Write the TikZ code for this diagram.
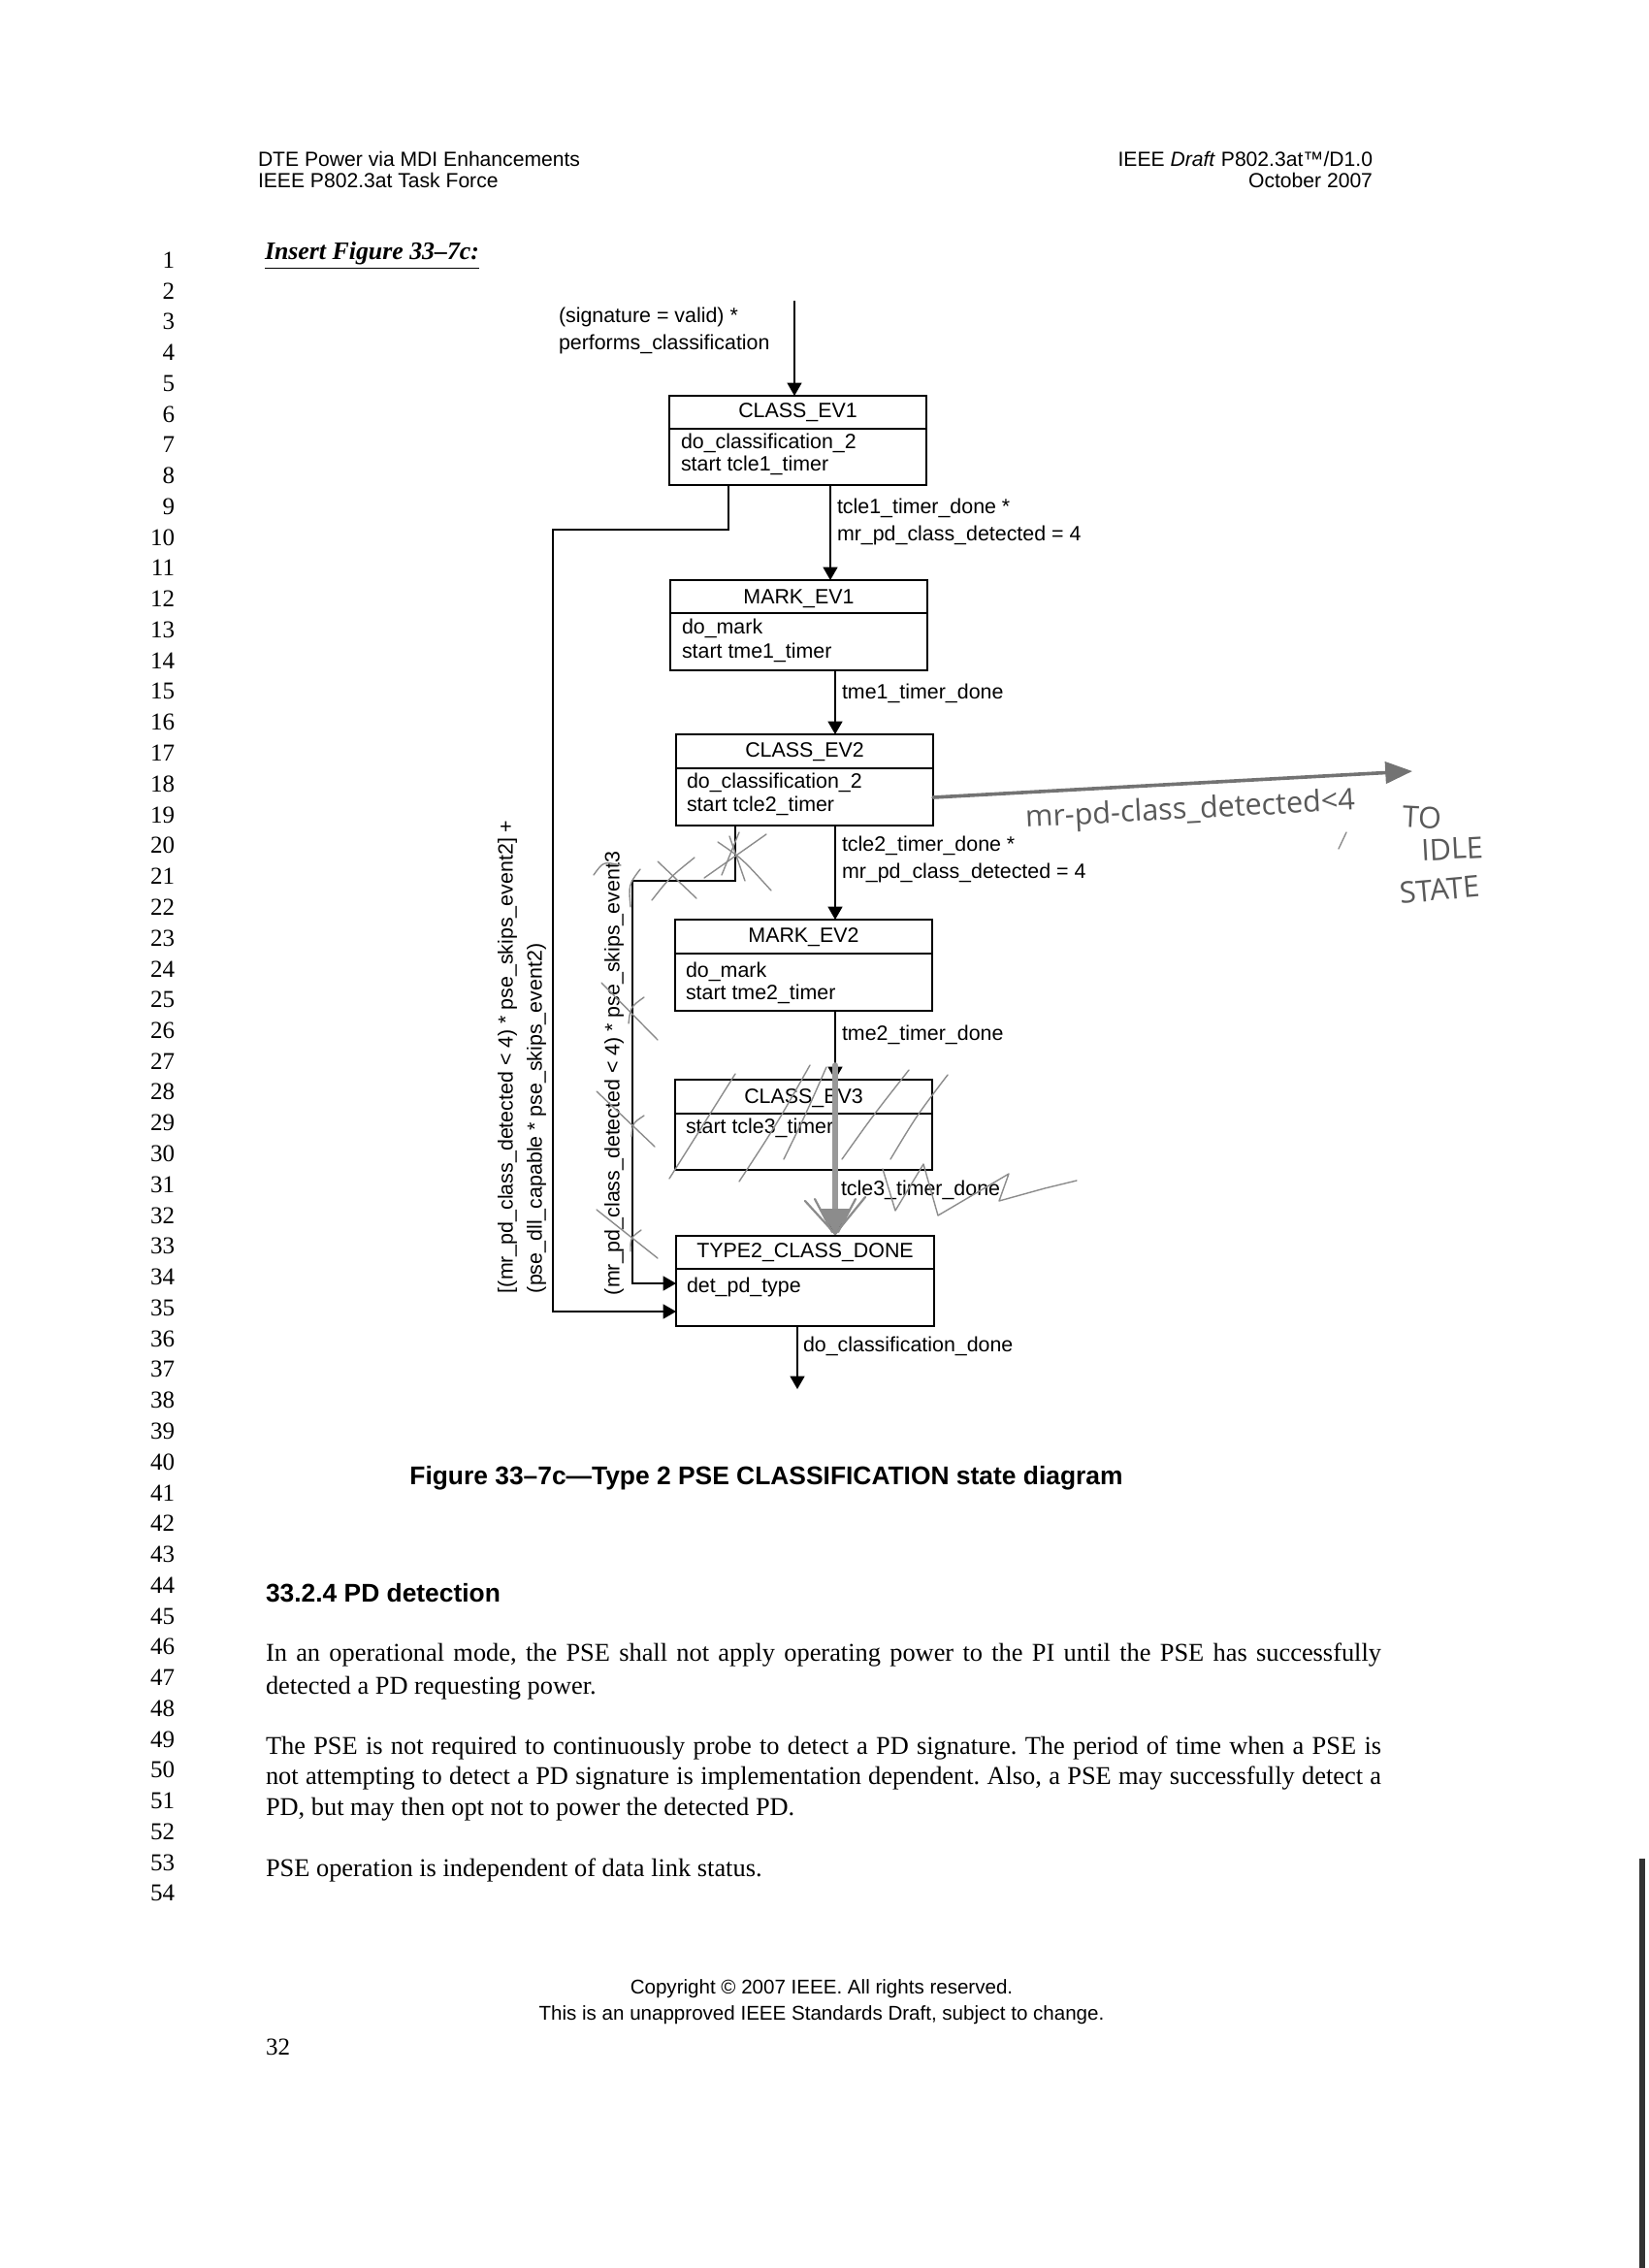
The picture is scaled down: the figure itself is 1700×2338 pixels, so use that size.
\documentclass[tikz,border=0pt]{standalone}
\usepackage{fontspec}
\setmainfont{Liberation Serif}
\setsansfont{Liberation Sans}
\newfontfamily\handfont{Open Sans}
\usetikzlibrary{arrows.meta,calc,fit}
\frenchspacing

\begin{document}
\begin{tikzpicture}[x=0.36pt,y=-0.36pt,
  every node/.style={inner sep=0pt, outer sep=0pt},
  dg/.style={font=\sffamily\fontsize{7.7}{10.1}\selectfont},
  lbl/.style={dg, anchor=west, align=left},
  ttl/.style={dg},
  bodyln/.style={dg, anchor=west},
  state/.style={draw, line width=0.6pt, inner sep=0pt},
  sepl/.style={line width=0.6pt},
  conn/.style={line width=0.45pt},
  arr/.style={conn, -{Triangle[length=4.8pt,width=5.4pt]}},
  pencil/.style={draw=black!45, line width=0.5pt, line cap=round, line join=round},
  hand/.style={font=\handfont\fontsize{11}{13}\selectfont, text=black!65},
  hdr/.style={font=\sffamily\fontsize{7.6}{8.3}\selectfont},
  ftr/.style={font=\sffamily\fontsize{7.4}{8.3}\selectfont},
  lnum/.style={font=\rmfamily\fontsize{9}{10}\selectfont, anchor=east},
  txt/.style={font=\rmfamily\fontsize{9.5}{11}\selectfont, anchor=west},
]
\useasboundingbox (0,0) rectangle (1700,2338);
\fill[white] (0,0) rectangle (1700,2338);

% ---------- header ----------
\node[hdr, anchor=west] (h1) at (266,164) {DTE Power via MDI Enhancements};
\node[hdr, anchor=west] (h2) at (266,186) {IEEE P802.3at Task Force};
\node[hdr, anchor=east] (h3) at (1415,164) {IEEE \textit{Draft} P802.3at™/D1.0};
\node[hdr, anchor=east] (h4) at (1415,186) {October 2007};

\node[font=\rmfamily\bfseries\itshape\fontsize{9.3}{11}\selectfont, anchor=west] (ins) at (273,264) {\underline{Insert Figure 33–7c:}};

% ---------- line numbers ----------
\foreach \i in {1,...,54} {
  \node[lnum] (ln\i) at (180,{268+(\i-1)*31.77}) {\i};
}

% ---------- states ----------
\node[state, fit={(690,408) (955,500)}] (c1) {};
\draw[sepl] (c1.west |- 0,442) -- (c1.east |- 0,442);
\node[ttl] (c1t) at (c1.north |- 0,425) {CLASS\_EV1};
\node[bodyln] (c1a) at (702,457) {do\_classification\_2};
\node[bodyln] (c1b) at (702,480) {start tcle1\_timer};

\node[state, fit={(691,598) (956,691)}] (m1) {};
\draw[sepl] (m1.west |- 0,632) -- (m1.east |- 0,632);
\node[ttl] (m1t) at (m1.north |- 0,617) {MARK\_EV1};
\node[bodyln] (m1a) at (703,648) {do\_mark};
\node[bodyln] (m1b) at (703,673) {start tme1\_timer};

\node[state, fit={(697,757) (962,851)}] (c2) {};
\draw[sepl] (c2.west |- 0,792) -- (c2.east |- 0,792);
\node[ttl] (c2t) at (c2.north |- 0,775) {CLASS\_EV2};
\node[bodyln] (c2a) at (708,807) {do\_classification\_2};
\node[bodyln] (c2b) at (708,831) {start tcle2\_timer};

\node[state, fit={(696,948) (961,1042)}] (m2) {};
\draw[sepl] (m2.west |- 0,983) -- (m2.east |- 0,983);
\node[ttl] (m2t) at (m2.north |- 0,966) {MARK\_EV2};
\node[bodyln] (m2a) at (707,1002) {do\_mark};
\node[bodyln] (m2b) at (707,1025) {start tme2\_timer};

\node[state, fit={(696,1113) (961,1206)}] (c3) {};
\draw[sepl] (c3.west |- 0,1148) -- (c3.east |- 0,1148);
\node[ttl] (c3t) at (c3.north |- 0,1132) {CLASS\_EV3};
\node[bodyln] (c3a) at (707,1163) {start tcle3\_timer};

\node[state, fit={(697,1274) (963,1367)}] (t2) {};
\draw[sepl] (t2.west |- 0,1308) -- (t2.east |- 0,1308);
\node[ttl] (t2t) at (t2.north |- 0,1291) {TYPE2\_CLASS\_DONE};
\node[bodyln] (t2a) at (708,1327) {det\_pd\_type};

% ---------- connectors ----------
\coordinate (entry) at (819,310);
\coordinate (exitp) at (822,1432);
\draw[arr] (entry) -- (entry |- c1.north);
\draw[arr] (c1.south -| 856,0) -- (m1.north -| 856,0);
\draw[arr] (m1.south -| 861,0) -- (c2.north -| 861,0);
\draw[arr] (c2.south -| 861,0) -- (m2.north -| 861,0);
\draw[arr] (m2.south -| 861,0) -- (c3.north -| 861,0);
\draw[arr] (c3.south -| 861,0) -- (t2.north -| 861,0);
\draw[arr] (t2.south -| exitp) -- (exitp);
\draw[arr] (c1.south -| 751,0) -- (751,546) -- (570,546) -- (570,1352) -- (t2.west |- 0,1352);
\draw[arr] (c2.south -| 758,0) -- (758,908) -- (652,908) -- (652,1323) -- (t2.west |- 0,1323);

% ---------- transition labels ----------
\node[lbl] (l0) at (576,341) {(signature = valid) *\\performs\_classification};
\node[lbl] (l1) at (863,538) {tcle1\_timer\_done *\\mr\_pd\_class\_detected = 4};
\node[lbl] (l2) at (868,715) {tme1\_timer\_done};
\node[lbl] (l3) at (868,886) {tcle2\_timer\_done *\\mr\_pd\_class\_detected = 4};
\node[lbl] (l4) at (868,1067) {tme2\_timer\_done};
\node[lbl] (l5) at (867,1227) {tcle3\_timer\_done};
\node[lbl] (l6) at (828,1388) {do\_classification\_done};
\node[font=\sffamily\fontsize{7.7}{10.8}\selectfont, rotate=90, anchor=west, align=left] (l7) at (538,1333)
  {[(mr\_pd\_class\_detected < 4) * pse\_skips\_event2] +\\(pse\_dll\_capable * pse\_skips\_event2)};
\node[dg, rotate=90, anchor=west] (l8) at (633,1335) {(mr\_pd\_class\_detected < 4) * pse\_skips\_event3};

% ---------- pencil annotations ----------
\coordinate (idle) at (1456,795);
\draw[pencil, line width=1.3pt, draw=black!55, -{Triangle[length=10pt,width=8pt]}] (c2.east |- 0,822) -- (idle);
\node[hand, rotate=3] (hw1) at (1227,836) {mr-pd-class\_detected<4};
\node[hand, rotate=-3] (hw2) at (1466,843) {TO};
\node[hand, rotate=3] (hw3) at (1497,875) {IDLE};
\node[hand, rotate=5] (hw4) at (1484,917) {STATE};
\draw[pencil] (1380,875) -- (1388,858);

% crossings near CLASS_EV2 exit
\draw[pencil] (726,905) -- (790,860);
\draw[pencil] (740,868) .. controls (765,885) .. (795,918);
\draw[pencil] (752,862) -- (768,908);
\draw[pencil] (762,858) -- (744,902);
\draw[pencil] (672,928) .. controls (690,905) .. (716,884);
\draw[pencil] (678,888) -- (718,926);
\draw[pencil] (612,902) .. controls (622,888) .. (640,892);
\draw[pencil] (660,896) .. controls (648,912) .. (650,935);
% crossings along inner loop line
\draw[pencil] (620,1013) -- (678,1072);
\draw[pencil] (664,1028) .. controls (650,1038) .. (648,1055);
\draw[pencil] (615,1125) -- (675,1182);
\draw[pencil] (664,1150) .. controls (652,1158) .. (651,1172);
\draw[pencil] (615,1247) -- (678,1297);
\draw[pencil] (661,1268) .. controls (650,1276) .. (650,1290);
% CLASS_EV3 cross-out
\draw[pencil] (690,1215) -- (758,1107);
\draw[pencil] (762,1218) .. controls (800,1160) .. (835,1098);
\draw[pencil] (808,1195) .. controls (830,1150) .. (852,1100);
\draw[pencil] (868,1195) .. controls (900,1150) .. (937,1103);
\draw[pencil] (918,1195) .. controls (945,1150) .. (977,1108);
\draw[pencil] (910,1205) -- (923,1248) -- (952,1200) -- (967,1253) -- (1040,1210) -- (1030,1238) -- (1077,1225) -- (1110,1217);
% thick pencil arrow over CLASS_EV3
\draw[pencil, line width=2pt, draw=black!40] (861,1098) -- (861,1262);
\fill[black!45] (845,1246) -- (877,1246) -- (861,1272) -- cycle;
\draw[pencil, line width=0.8pt] (830,1238) -- (861,1272) -- (892,1234);
\draw[pencil, line width=0.8pt] (840,1236) -- (858,1270);
\draw[pencil, line width=0.8pt] (882,1236) -- (864,1270);

% ---------- caption and text ----------
\node[font=\sffamily\bfseries\fontsize{9.5}{11}\selectfont] (cap) at (790,1524) {Figure 33–7c—Type 2 PSE CLASSIFICATION state diagram};
\node[font=\sffamily\bfseries\fontsize{9.5}{11}\selectfont, anchor=west] (sec) at (274,1642) {33.2.4 PD detection};

\node[txt] (b1) at (274,1706) {\hbox to 414pt{In an operational mode, the PSE shall not apply operating power to the PI until the PSE has successfully}};
\node[txt] (b2) at (274,1740) {detected a PD requesting power.};
\node[txt] (b3) at (274,1802) {\hbox to 414pt{The PSE is not required to continuously probe to detect a PD signature. The period of time when a PSE is}};
\node[txt] (b4) at (274,1833) {\hbox to 414pt{not attempting to detect a PD signature is implementation dependent. Also, a PSE may successfully detect a}};
\node[txt] (b5) at (274,1865) {PD, but may then opt not to power the detected PD.};
\node[txt] (b6) at (274,1928) {PSE operation is independent of data link status.};

% ---------- footer ----------
\node[ftr] (f1) at (847,2050) {Copyright © 2007 IEEE. All rights reserved.};
\node[ftr] (f2) at (847,2077) {This is an unapproved IEEE Standards Draft, subject to change.};
\node[font=\rmfamily\fontsize{9}{11}\selectfont, anchor=west] (pg) at (274,2110) {32};

% scan edge
\fill[black!80] (1690,1916) rectangle (1696,2338);
\end{tikzpicture}
\end{document}
